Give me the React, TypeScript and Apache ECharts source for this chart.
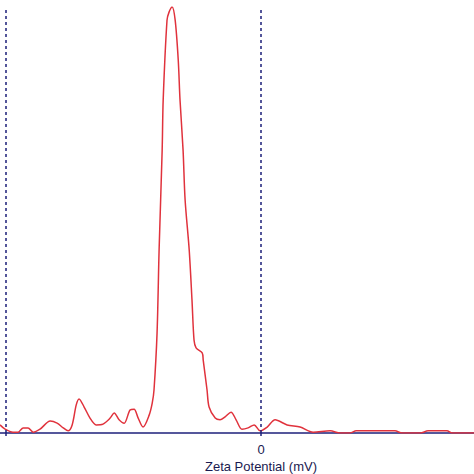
import { useEffect, useRef } from "react";
import * as echarts from "echarts";

// zeta potential (mV) and relative intensity
const zetaMv = [
  -102.4, -100.4, -97.3, -95.3, -93.3, -91.4, -89.4, -86.7, -82.7, -80.0,
  -77.6, -75.7, -74.1, -72.5, -71.4, -69.4, -67.1, -64.7, -62.0, -59.2,
  -57.6, -55.7, -53.7, -51.4, -49.8, -48.2, -46.3, -43.9, -42.7, -42.0,
  -40.8, -40.0, -38.8, -38.4, -36.9, -36.1, -34.9, -33.7, -32.5, -31.8,
  -30.6, -29.8, -28.2, -27.1, -26.3, -25.5, -23.1, -22.7, -21.2, -20.4,
  -18.0, -16.1, -14.1, -11.8, -9.8, -7.5, -5.1, -2.7, -0.4, 2.4,
  5.5, 10.2, 15.3, 20.4, 27.1, 31.0, 34.9, 37.3, 52.5, 55.3,
  62.4, 65.5, 72.9, 74.9, 83.5,
];
const intensity = [
  1.9, 0.9, 0.2, 0.2, 1.2, 1.2, 0.2, 0.9, 2.8, 2.3,
  1.2, 0.5, 1.9, 6.6, 8.0, 6.1, 3.5, 1.9, 2.1, 3.5,
  4.7, 3.1, 2.3, 5.4, 5.6, 3.5, 1.4, 4.2, 7.0, 10.1,
  23.5, 43.0, 66.4, 78.2, 96.9, 98.8, 100, 96.9, 87.6, 78.2,
  66.4, 54.7, 43.0, 31.2, 21.8, 20.0, 18.8, 17.1, 10.1, 6.1,
  3.5, 3.1, 3.8, 4.9, 3.1, 0.9, 1.2, 1.9, 0.5, 1.4,
  3.1, 1.9, 1.4, 0.2, 0.5, 0, 0, 0.5, 0.5, 0,
  0, 0.5, 0.5, 0, 0,
];
const markerMv = [-100, 0];
const tickLabels = [0];

export default function App() {
  const ref = useRef<HTMLDivElement | null>(null);

  useEffect(() => {
    if (!ref.current) {
      return;
    }
    const chart = echarts.init(ref.current, undefined, { renderer: "svg" });
    const navy = "#1c1f7a";

    chart.setOption({
      animation: false,
      grid: { left: 0, right: 0, top: 7, bottom: 41 },
      xAxis: {
        type: "value",
        min: -102.4,
        max: 83.5,
        splitLine: { show: false },
        axisLine: { lineStyle: { color: navy, width: 1.5 } },
        axisTick: {
          show: true,
          customValues: markerMv,
          length: 6,
          lineStyle: { color: navy, type: [3, 3], width: 1.5 },
        },
        axisLabel: {
          customValues: tickLabels,
          margin: 10,
          color: "#1a1a50",
          fontFamily: "Liberation Sans, Arial, sans-serif",
          fontSize: 13,
        },
      },
      yAxis: { type: "value", min: 0, max: 100, show: false },
      graphic: [
        {
          type: "text",
          x: 261,
          y: 466,
          style: {
            text: "Zeta Potential (mV)",
            fill: "#1a1a50",
            font: "13px 'Liberation Sans', Arial, sans-serif",
            textAlign: "center",
            textVerticalAlign: "middle",
          },
        },
      ],
      series: [
        {
          type: "line",
          data: zetaMv.map((v, i) => [v, intensity[i]]),
          showSymbol: false,
          smooth: 0.3,
          lineStyle: { color: "#e0323c", width: 1.5 },
          markLine: {
            silent: true,
            symbol: "none",
            label: { show: false },
            lineStyle: { color: navy, type: [3, 3], width: 1.5 },
            data: markerMv.map((v) => ({ xAxis: v })),
          },
        },
      ],
    });

    return () => {
      chart.dispose();
    };
  }, []);

  return (
    <div
      ref={ref}
      style={{ position: "absolute", left: 0, top: 0, width: 474, height: 474, background: "#fff" }}
    />
  );
}
